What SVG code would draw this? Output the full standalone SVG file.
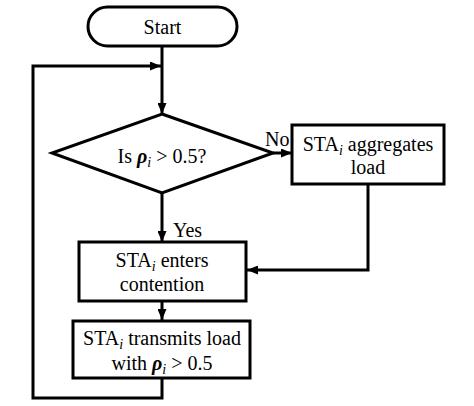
<svg xmlns="http://www.w3.org/2000/svg" width="474" height="406" viewBox="0 0 474 406" font-family="Liberation Serif, Times New Roman, DejaVu Serif, serif">
<style>
.shape{fill:#fff;stroke:#000;stroke-width:3}
.conn{fill:none;stroke:#000;stroke-width:3}
.t{font-family:'Liberation Serif','Times New Roman','DejaVu Serif',serif;font-size:20px;fill:#000}
.c{text-anchor:middle}
.sub{font-style:italic;font-size:14px}
.rho{font-style:italic;font-weight:bold}
</style>
<defs>
<marker id="ah" markerUnits="userSpaceOnUse" markerWidth="11" markerHeight="9" refX="11" refY="4.5" orient="auto">
<path d="M0,0 L11,4.5 L0,9 z" fill="#000"/>
</marker>
</defs>
<g id="connectors">
<path class="conn" d="M162,46 V114" marker-end="url(#ah)"/>
<path class="conn" d="M162,378 V398 H33 V66 H161" marker-end="url(#ah)"/>
<path class="conn" d="M273,153 H292" marker-end="url(#ah)"/>
<path class="conn" d="M162,193 V242" marker-end="url(#ah)"/>
<path class="conn" d="M368,184 V270 H247" marker-end="url(#ah)"/>
<path class="conn" d="M162,301 V320" marker-end="url(#ah)"/>
</g>
<g id="start">
<rect class="shape" x="88" y="7" width="149" height="39" rx="19.5" ry="19.5"/>
<text class="t c" x="162.5" y="34">Start</text>
</g>
<g id="decision">
<polygon class="shape" points="162,114 273,153 162,193 52,153"/>
<text class="t c" x="162" y="163">Is <tspan class="rho">ρ</tspan><tspan class="sub" dy="4">i</tspan><tspan dy="-4"> &gt; 0.5?</tspan></text>
</g>
<g id="label-no"><text class="t" x="265" y="146">No</text></g>
<g id="label-yes"><text class="t" x="173" y="237">Yes</text></g>
<g id="aggregate">
<rect class="shape" x="292" y="125" width="152" height="59"/>
<text class="t c" x="368" y="151">STA<tspan class="sub" dy="4">i</tspan><tspan dy="-4"> aggregates</tspan></text>
<text class="t c" x="368" y="174">load</text>
</g>
<g id="contention">
<rect class="shape" x="79" y="242" width="167" height="59"/>
<text class="t c" x="162" y="267">STA<tspan class="sub" dy="4">i</tspan><tspan dy="-4"> enters</tspan></text>
<text class="t c" x="162" y="291">contention</text>
</g>
<g id="transmit">
<rect class="shape" x="73" y="321" width="177" height="57"/>
<text class="t c" x="162" y="345">STA<tspan class="sub" dy="4">i</tspan><tspan dy="-4"> transmits load</tspan></text>
<text class="t c" x="162" y="370">with <tspan class="rho">ρ</tspan><tspan class="sub" dy="4">i</tspan><tspan dy="-4"> &gt; 0.5</tspan></text>
</g>
</svg>
